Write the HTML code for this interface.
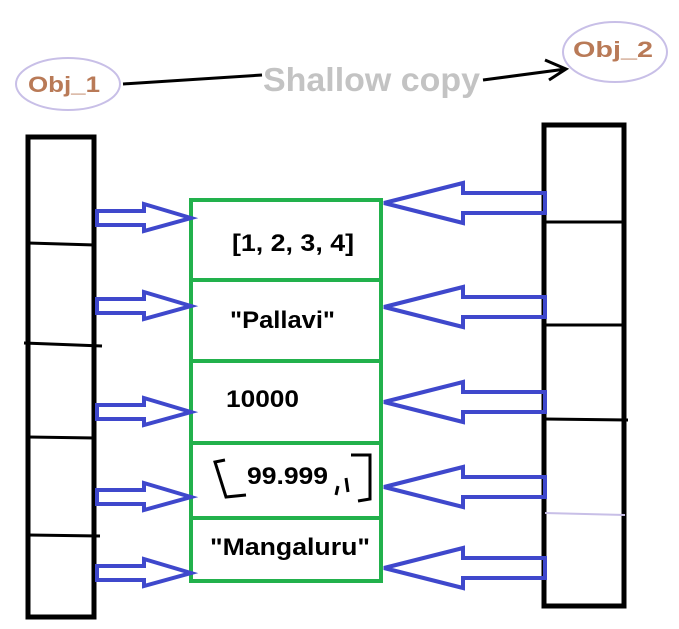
<!DOCTYPE html>
<html><head><meta charset="utf-8"><style>body{margin:0;background:#fff}svg{display:block}text{font-family:"Liberation Sans",sans-serif;font-weight:bold}</style></head>
<body>
<svg width="679" height="629" viewBox="0 0 679 629" xmlns="http://www.w3.org/2000/svg">
<defs>
<g id="la"><path d="M97,-7 H144 V-14 L191,0 L144,13 V7 H97 Z" fill="none" stroke="#3f48cc" stroke-width="4" stroke-linejoin="miter"/></g>
<g id="ra"><path d="M545,-10 H463 V-20 L384,0 L463,20 V10 H545 Z" fill="none" stroke="#3f48cc" stroke-width="4"/></g>
</defs>
<ellipse cx="68" cy="84" rx="52" ry="26" fill="none" stroke="#c8bfe7" stroke-width="2"/>
<text x="28" y="92" font-size="22" fill="#b97a57" textLength="72" lengthAdjust="spacingAndGlyphs">Obj_1</text>
<ellipse cx="615" cy="52" rx="52" ry="30" fill="none" stroke="#c8bfe7" stroke-width="2"/>
<text x="573" y="57" font-size="22" fill="#b97a57" textLength="80" lengthAdjust="spacingAndGlyphs">Obj_2</text>
<path d="M123,84 L262,75" stroke="#000" stroke-width="3"/>
<text x="263" y="91" font-size="33" fill="#c3c3c3" textLength="217" lengthAdjust="spacingAndGlyphs">Shallow copy</text>
<path d="M483,80 L566,69 M545,60 L566,69 L549,80" stroke="#000" stroke-width="3" fill="none"/>
<g stroke="#000" stroke-width="5" fill="none">
<rect x="28" y="137" width="66" height="480"/>
<rect x="544" y="125" width="80" height="481"/>
</g>
<g stroke="#000" stroke-width="3">
<path d="M28,243 L95,245"/><path d="M24,343 L102,346"/><path d="M28,437 L95,438"/><path d="M28,535 L100,536"/>
<path d="M544,222 L624,222"/><path d="M544,325 L624,325"/><path d="M544,419 L628,420"/>
</g>
<path d="M545,513 L625,515" stroke="#c8bfe7" stroke-width="2"/>
<g stroke="#22b14c" stroke-width="4" fill="none">
<rect x="191" y="200" width="190" height="381"/>
<path d="M191,280 H381 M191,361 H381 M191,443 H381 M191,518 H381"/>
</g>
<use href="#la" y="218"/><use href="#la" y="306"/><use href="#la" y="412"/><use href="#la" y="497"/><use href="#la" y="573"/>
<use href="#ra" y="203"/><use href="#ra" y="307"/><use href="#ra" y="402"/><use href="#ra" y="487"/><use href="#ra" y="568"/>
<g font-size="24" fill="#000">
<text x="232" y="251" textLength="122" lengthAdjust="spacingAndGlyphs">[1, 2, 3, 4]</text>
<text x="230" y="328" textLength="105" lengthAdjust="spacingAndGlyphs">"Pallavi"</text>
<text x="226" y="407" textLength="73" lengthAdjust="spacingAndGlyphs">10000</text>
<text x="247" y="484" textLength="81" lengthAdjust="spacingAndGlyphs">99.999</text>
<text x="210" y="555" textLength="160" lengthAdjust="spacingAndGlyphs">"Mangaluru"</text>
</g>
<path d="M225,460 L215,462 L226,497 L246,495" stroke="#000" stroke-width="3" fill="none"/>
<path d="M338,486 L336,495 M346,478 L348,492 M351,455 L370,455 L370,499 L358,501" stroke="#000" stroke-width="3" fill="none"/>
</svg>
</body></html>
